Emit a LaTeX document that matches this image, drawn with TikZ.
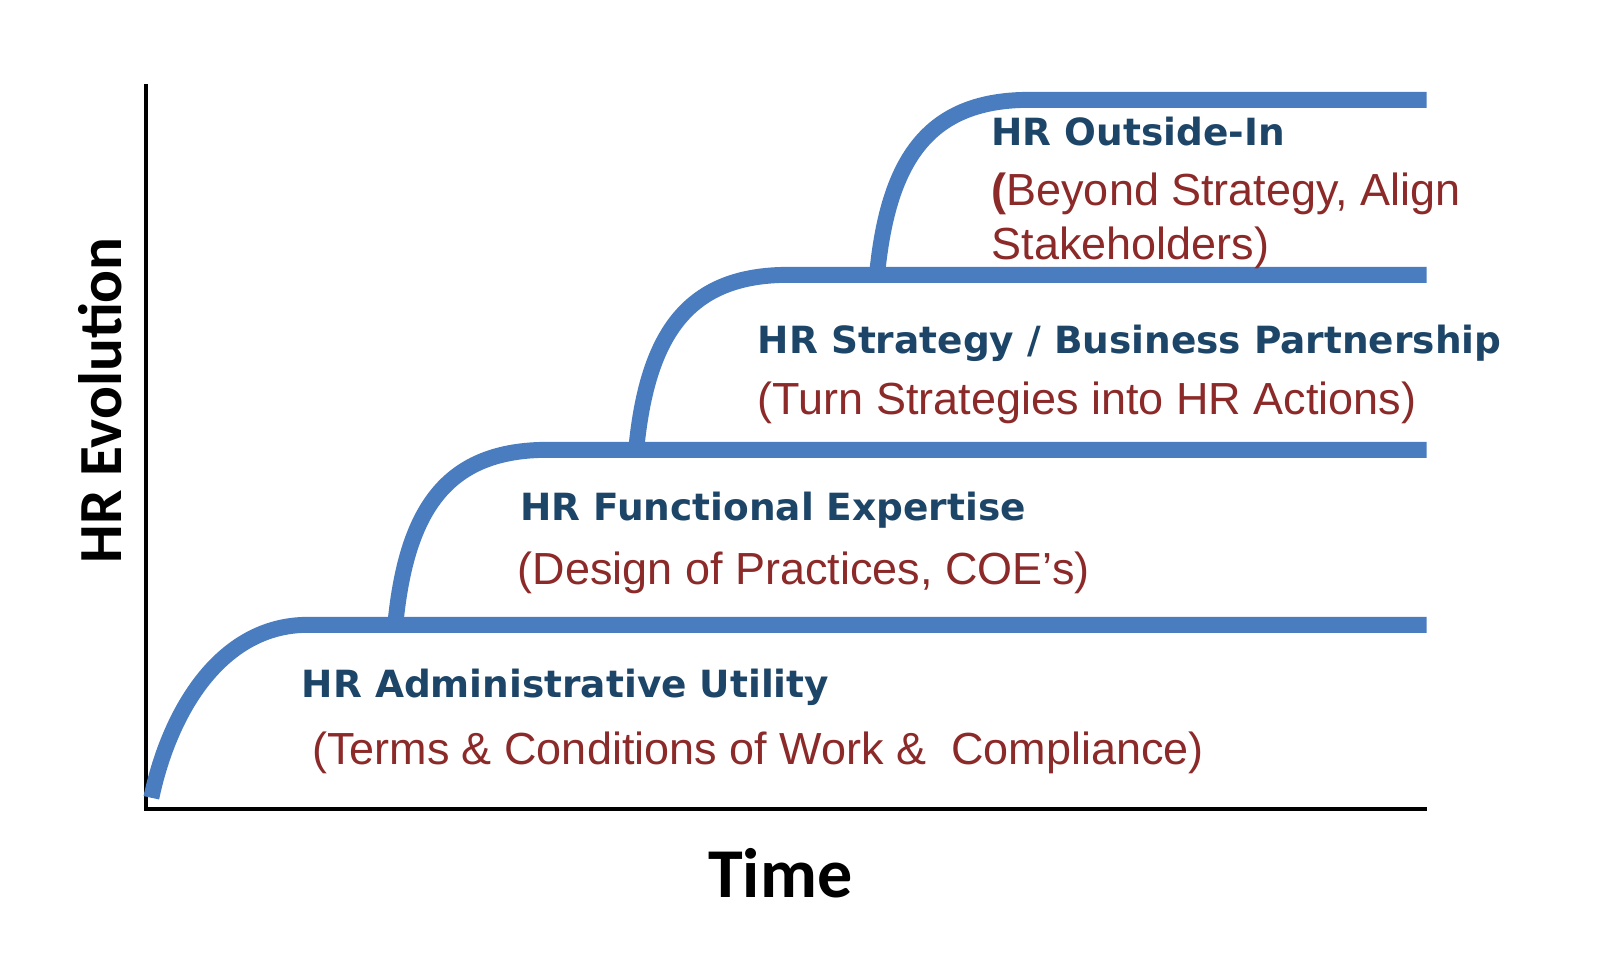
\documentclass[tikz,border=0pt]{standalone}
\usepackage{fontspec}
\setmainfont{Liberation Sans}
\newfontfamily\headfont{DejaVu Sans}
\newfontfamily\calfont{Carlito}
\definecolor{stepblue}{HTML}{4A7DC0}
\definecolor{headnavy}{HTML}{1D4568}
\definecolor{subred}{HTML}{8C2A2A}
\begin{document}
\begin{tikzpicture}[x=1pt,y=-1pt,
  stepline/.style={draw=stepblue,line width=15.5pt,line cap=butt},
  axisline/.style={draw=black,line width=4pt},
  headtxt/.style={anchor=base west,inner sep=0pt,text=headnavy,font=\headfont\bfseries\fontsize{36.4}{44}\selectfont},
  subtxt/.style={anchor=base west,inner sep=0pt,text=subred,font=\fontsize{43.7}{52}\selectfont},
  axistxt/.style={anchor=base,inner sep=0pt,text=black,font=\calfont\bfseries\fontsize{68}{80}\selectfont}]
\fill[white] (0,0) rectangle (1566,936.5);
\useasboundingbox (0,0) rectangle (1566,936.5);
% axes
\coordinate (top) at (142,82);
\coordinate (origin) at (142,786);
\coordinate (xend) at (1386,786);
\draw[axisline] (top) -- (origin) -- (xend);
% steps
\draw[stepline] (147,775) .. controls (165,690) and (215,607) .. (299,607) -- (1386,607);
\draw[stepline] (384,607) .. controls (395,492) and (436,437) .. (532,437) -- (1386,437);
\draw[stepline] (618,437) .. controls (629,322) and (670,267) .. (766,267) -- (1386,267);
\draw[stepline] (852,267) .. controls (863,152) and (904,97) .. (1000,97) -- (1386,97);
% labels
\node[headtxt] (h1) at (293,678) {HR Administrative Utility};
\node[subtxt] (s1) at (303,743) {(Terms \& Conditions of Work \&\ \ Compliance)};
\node[headtxt] (h2) at (505,506) {HR Functional Expertise};
\node[subtxt] (s2) at (503,568) {(Design of Practices, COE’s)};
\node[headtxt] (h3) at (736,343) {HR Strategy / Business Partnership};
\node[subtxt] (s3) at (736,403) {(Turn Strategies into HR Actions)};
\node[headtxt] (h4) at (963,141) {HR Outside-In};
\node[subtxt] (s4a) at (963,200) {\textbf{(}Beyond Strategy, Align};
\node[subtxt] (s4b) at (963,252) {Stakeholders)};
% axis titles
\node[axistxt] (time) at (758,872) {Time};
\node[axistxt,rotate=90,font=\calfont\bfseries\fontsize{59.5}{70}\selectfont] (evo) at (118,389) {HR Evolution};
\end{tikzpicture}
\end{document}
